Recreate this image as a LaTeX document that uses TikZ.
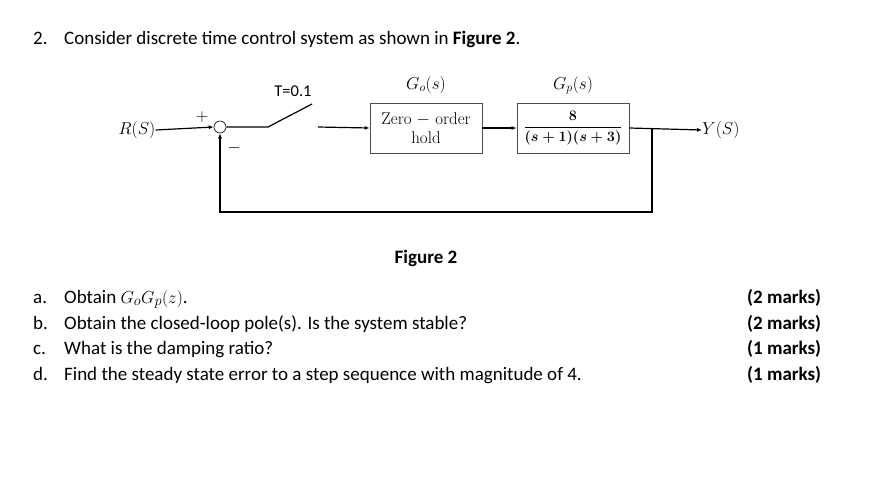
\documentclass[tikz,border=0pt]{standalone}
\usepackage{amsmath}
\usepackage{fontspec}
\setmainfont{Carlito}
\newfontfamily\mathserif{Latin Modern Roman}
\usetikzlibrary{arrows.meta}
\begin{document}
\begin{tikzpicture}[x=1pt,y=-1pt,
  txt/.style={anchor=base west,inner sep=0pt,font=\fontsize{19}{21}\selectfont},
  bf/.style={txt,font=\bfseries\fontsize{19}{21}\selectfont},
  blk/.style={draw=black!70,line width=0.8pt,minimum width=112pt,minimum height=50pt,inner sep=0pt},
  sig/.style={line width=1.2pt,-{Latex[length=5pt,width=4pt]}},
  wire/.style={line width=1.2pt},
  lab/.style={font=\fontsize{17}{19}\selectfont,inner sep=0pt}]
\useasboundingbox (0,0) rectangle (882,477);
\node[txt] (q) at (33,44) {2.};
\node[txt] (qt) at (64,44) {Consider discrete time control system as shown in \textbf{Figure 2}.};
% diagram
\node[lab] (R) at (137,130) {$R(S)$};
\node[draw,circle,minimum size=12pt,inner sep=0pt,line width=0.6pt] (sum) at (220,127) {};
\node[lab] (plus) at (202,117) {$+$};
\node[lab] (minus) at (234,148) {$-$};
\coordinate (s1) at (268,127);
\coordinate (s2) at (312,104);
\coordinate (s3) at (318,127);
\node[lab,font=\fontsize{16.5}{18}\selectfont] (T) at (293,91) {T=0.1};
\node[blk,align=center,font=\mathserif\fontsize{17}{19}\selectfont] (zoh) at (426,128) {Zero $-$ order\\hold};
\node[blk,font=\fontsize{15}{17}\selectfont\boldmath] (gp) at (573,128) {$\displaystyle\frac{8}{(s+1)(s+3)}$};
\node[lab] (Go) at (426,85) {$G_o(s)$};
\node[lab] (Gp) at (573,85) {$G_p(s)$};
\coordinate (br) at (652,128);
\node[lab,anchor=west] (Y) at (702,130) {$Y(S)$};
\coordinate (fb1) at (652,212);
\coordinate (fb2) at (220,212);
\draw[sig] (R.east) -- (sum.west);
\draw[wire] (sum.east) -- (s1) -- (s2);
\draw[sig] (s3) -- (zoh.west);
\draw[sig] (zoh.east) -- (gp.west);
\draw[sig] (gp.east) -- (Y.west);
\draw[sig] (br) -- (fb1) -- (fb2) -- (sum.south);
\node[bf,anchor=base] (fig) at (426,263) {Figure 2};
% questions
\node[txt] (a) at (33,303) {a.};
\node[txt] (at) at (64,303) {Obtain $G_oG_p(z)$.};
\node[txt] (b) at (33,329) {b.};
\node[txt] (bt) at (64,329) {Obtain the closed-loop pole(s). Is the system stable?};
\node[txt] (c) at (33,354) {c.};
\node[txt] (ct) at (64,354) {What is the damping ratio?};
\node[txt] (d) at (33,380) {d.};
\node[txt] (dt) at (64,380) {Find the steady state error to a step sequence with magnitude of 4.};
\node[bf] (ma) at (747,303) {(2 marks)};
\node[bf] (mb) at (747,329) {(2 marks)};
\node[bf] (mc) at (747,354) {(1 marks)};
\node[bf] (md) at (747,380) {(1 marks)};
\end{tikzpicture}
\end{document}
